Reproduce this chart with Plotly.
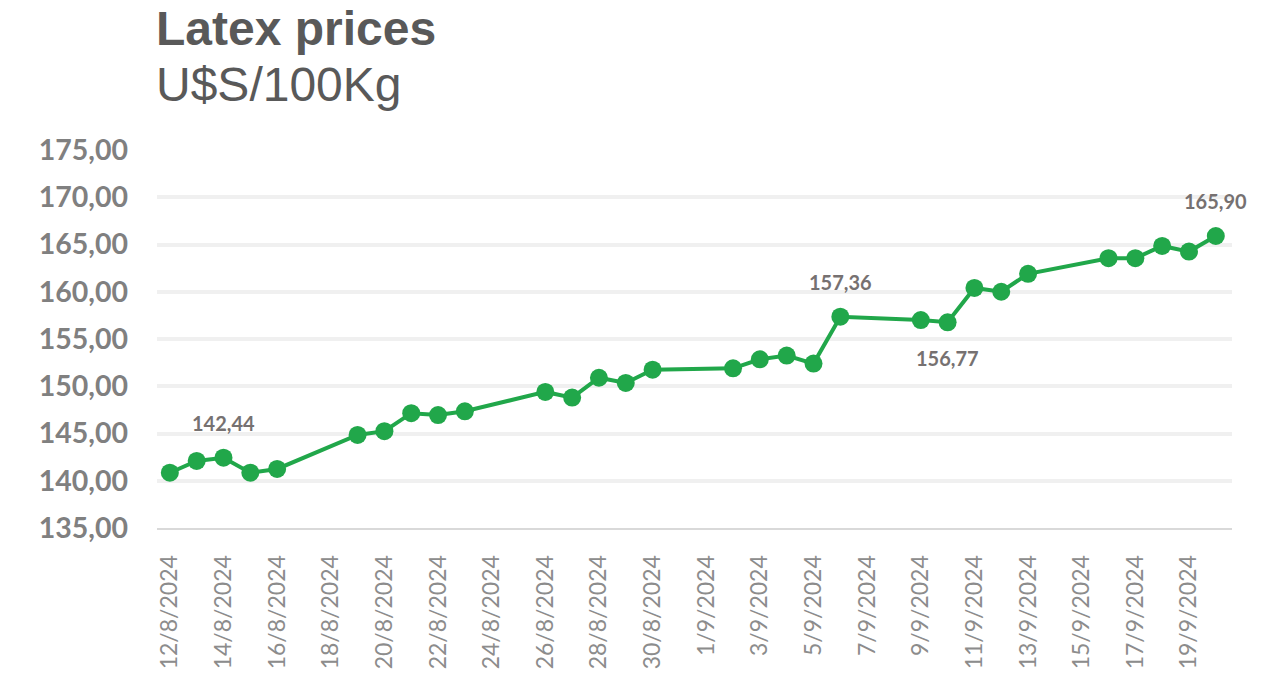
import plotly.graph_objects as go

dates = ["2024-08-12", "2024-08-13", "2024-08-14", "2024-08-15", "2024-08-16",
         "2024-08-19", "2024-08-20", "2024-08-21", "2024-08-22", "2024-08-23",
         "2024-08-26", "2024-08-27", "2024-08-28", "2024-08-29", "2024-08-30",
         "2024-09-02", "2024-09-03", "2024-09-04", "2024-09-05", "2024-09-06",
         "2024-09-09", "2024-09-10", "2024-09-11", "2024-09-12", "2024-09-13",
         "2024-09-16", "2024-09-17", "2024-09-18", "2024-09-19", "2024-09-20"]
prices = [140.85, 142.10, 142.44, 140.85, 141.25,
          144.85, 145.25, 147.15, 146.95, 147.35,
          149.40, 148.80, 150.90, 150.35, 151.75,
          151.90, 152.85, 153.25, 152.40, 157.36,
          157.00, 156.77, 160.40, 160.00, 161.90,
          163.55, 163.55, 164.85, 164.25, 165.90]

# data labels: (index, position)
label_points = [(2, "above"), (19, "above"), (21, "below"), (29, "above")]

GREEN = "#21A74A"

fig = go.Figure()
fig.add_trace(go.Scatter(
    x=dates, y=prices, mode="lines+markers",
    line=dict(color=GREEN, width=4),
    marker=dict(color=GREEN, size=18),
    hoverinfo="x+y", showlegend=False,
))

def fmt(v):
    return f"{v:.2f}".replace(".", ",")

for idx, pos in label_points:
    fig.add_annotation(
        x=dates[idx], y=prices[idx], xref="x", yref="y",
        text=fmt(prices[idx]), showarrow=False,
        yshift=35 if pos == "above" else -36,
        font=dict(family="Lato", size=20, color="#767171", weight="bold"),
    )

fig.add_annotation(
    xref="paper", yref="paper", x=-0.003, y=1.397, xanchor="left", yanchor="top",
    text="<b>Latex prices</b>", showarrow=False,
    font=dict(family="Liberation Sans, Arial", size=48, color="#595959"),
)
fig.add_annotation(
    xref="paper", yref="paper", x=-0.003, y=1.248, xanchor="left", yanchor="top",
    text="U$S/100Kg", showarrow=False,
    font=dict(family="Liberation Sans, Arial", size=48, color="#595959"),
)

fig.update_layout(
    width=1265, height=676,
    margin=dict(l=157, r=33, t=150, b=148),
    paper_bgcolor="white", plot_bgcolor="white",
    xaxis=dict(
        type="date", automargin=False,
        range=["2024-08-11 12:30", "2024-09-20 14:30"],
        tick0="2024-08-12", dtick=2 * 86400000,
        tickformat="%-d/%-m/%Y", tickangle=-90,
        tickfont=dict(family="Lato", size=23, color="#8C8C8C"),
        showgrid=False, showline=True, linecolor="#D9D9D9", linewidth=2,
        ticks="", ticklabelstandoff=16, zeroline=False,
    ),
    yaxis=dict(
        range=[135, 175], dtick=5, tick0=135, automargin=False,
        tickformat=".2f",
        tickfont=dict(family="Lato", size=28.5, color="#808080", weight="bold"),
        showgrid=True, gridcolor="#F0F0F0", gridwidth=4,
        zeroline=False, showline=False, ticks="", ticklabelstandoff=28,
    ),
    separators=",.",
)

fig.write_html("out.html")
